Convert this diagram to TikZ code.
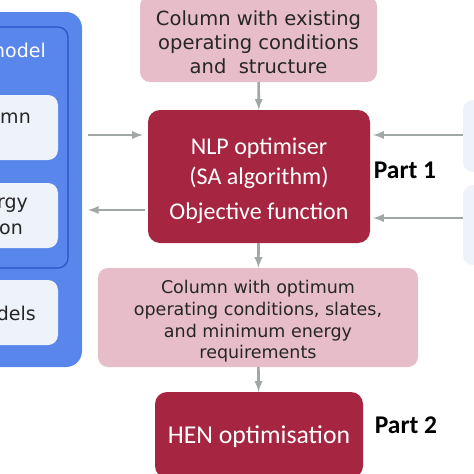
\documentclass[tikz,border=0pt]{standalone}
\usepackage{xcolor}
\usepackage{fontspec}
\setmainfont{DejaVu Sans}
\newfontfamily\calib{Carlito}
\usepackage{tikz}
\usetikzlibrary{shapes,arrows}

\definecolor{modelblue}{RGB}{88,134,234}
\definecolor{frameblue}{RGB}{42,82,204}
\definecolor{paleblue}{RGB}{238,242,250}
\definecolor{pinkbox}{RGB}{230,189,201}
\definecolor{redbox}{RGB}{166,38,66}
\definecolor{arrowgrey}{RGB}{160,167,164}

\tikzset{
  pinkstep/.style={rectangle,rounded corners=10pt,fill=pinkbox,inner sep=0pt},
  pinktext/.style={align=center,inner sep=0pt,text=black!85},
  redstep/.style={rectangle,rounded corners=12pt,fill=redbox,inner sep=0pt},
  redtext/.style={align=center,inner sep=0pt,text=white,font=\calib\fontsize{24}{30}\selectfont},
  palebox/.style={rectangle,rounded corners=10pt,fill=paleblue,inner sep=0pt},
  parttag/.style={font=\calib\bfseries\fontsize{25.5}{30}\selectfont},
  cut/.style={anchor=east,inner sep=0pt,font=\fontsize{19}{23}\selectfont,text=black!85},
  arr/.style={draw=arrowgrey,line width=2.6pt,-latex}
}

\begin{document}
\begin{tikzpicture}[x=1pt,y=-1pt]
\path[use as bounding box] (0,0) rectangle (474,474);
\clip (0,0) rectangle (474,474);

% left model block (cut off)
\node (models) [rectangle,rounded corners=16pt,fill=modelblue,minimum width=112pt,minimum height=355pt] at (26,189.5) {};
\node (inner) [rectangle,rounded corners=10pt,draw=frameblue,line width=1.2pt,fill=modelblue,minimum width=98pt,minimum height=241pt] at (19,147.5) {};
\node (mtitle) [cut,text=white] at (46,50) {model};
\node (col) [palebox,minimum width=88pt,minimum height=65pt] at (14,127.5) {};
\node [cut] at (31,118) {mn};
\node (ener) [palebox,minimum width=88pt,minimum height=65pt] at (14,215.5) {};
\node [cut] at (28,205) {rgy};
\node [cut] at (23,229) {on};
\node (mods) [palebox,minimum width=88pt,minimum height=65pt] at (14,312.5) {};
\node [cut] at (36,313) {dels};

% right blocks (cut off)
\node (rtop) [palebox,minimum width=60pt,minimum height=72pt] at (493,136) {};
\node (rbot) [palebox,minimum width=60pt,minimum height=80pt] at (493,225) {};

% main chain
\node (exist) [pinkstep,minimum width=237pt,minimum height=86pt,
  label={[pinktext,font=\fontsize{19.5}{24}\selectfont,yshift=-3pt]center:Column with existing\\operating conditions\\and\ \ structure}] at (258.5,39) {};
\node (nlp) [redstep,minimum width=222pt,minimum height=133pt,
  label={[redtext,yshift=-4pt]center:NLP optimiser\\(SA algorithm)\\[5pt]Objective function}] at (259,176.5) {};
\node (part1) [parttag] at (405,170) {Part 1};
\node (optim) [pinkstep,minimum width=320pt,minimum height=99pt,
  label={[pinktext,font=\fontsize{17.5}{21.7}\selectfont,yshift=-4pt]center:Column with optimum\\operating conditions, slates,\\and minimum energy\\requirements}] at (258,317.5) {};
\node (hen) [redstep,minimum width=208pt,minimum height=86pt,
  label={[redtext,font=\calib\fontsize{25.7}{30}\selectfont,yshift=-2pt]center:HEN optimisation}] at (259,435) {};
\node (part2) [parttag] at (406,425) {Part 2};

\coordinate (lin) at (88,135);
\coordinate (lout) at (88,210);

\draw[arr] (exist) -- (nlp);
\draw[arr] (nlp) -- (optim);
\draw[arr] (optim) -- (hen);
\draw[arr,shorten >=5pt] (lin) -- (lin -| nlp.west);
\draw[arr,shorten <=3pt] (lout -| nlp.west) -- (lout);
\draw[arr,shorten >=3pt] (rtop.west |- lin) -- (lin -| nlp.east);
\draw[arr,shorten >=3pt] (rbot.west |- 0,218) -- (nlp.east |- 0,218);
\end{tikzpicture}
\end{document}
